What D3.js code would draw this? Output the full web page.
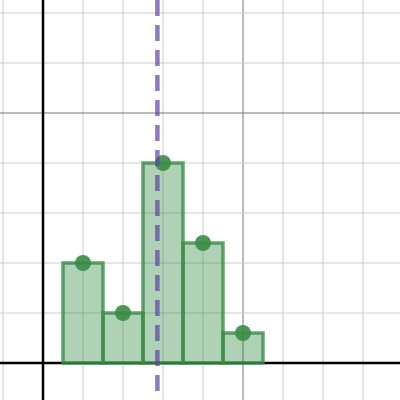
<!DOCTYPE html>
<html><head><script src="https://cdn.jsdelivr.net/npm/d3@7"></script>
<style>body{margin:0}svg{display:block}</style></head><body>
<script>
const centers=[1,2,3,4,5];
const heights=[2,1,4,2.4,0.6];
const meanX=2.86;
const W=400,H=400;
const x=d3.scaleLinear().domain([-1.075,8.925]).range([0,W]);
const y=d3.scaleLinear().domain([-0.74,7.26]).range([H,0]);
const svg=d3.select("body").append("svg").attr("width",W).attr("height",H);
svg.append("rect").attr("width",W).attr("height",H).attr("fill","#fff");
const g=svg.append("g");
d3.range(-1,9).forEach(v=>{g.append("line").attr("x1",x(v)).attr("x2",x(v)).attr("y1",0).attr("y2",H)
 .attr("stroke",v%5===0?"#777":"#ccc").attr("stroke-width",1);});
d3.range(0,8).forEach(v=>{g.append("line").attr("y1",y(v)).attr("y2",y(v)).attr("x1",0).attr("x2",W)
 .attr("stroke",v%5===0?"#777":"#ccc").attr("stroke-width",1);});
g.append("line").attr("x1",x(0)).attr("x2",x(0)).attr("y1",0).attr("y2",H).attr("stroke","#000").attr("stroke-width",2.5);
g.append("line").attr("y1",y(0)).attr("y2",y(0)).attr("x1",0).attr("x2",W).attr("stroke","#000").attr("stroke-width",2.5);
svg.selectAll(".bar").data(centers).enter().append("rect")
 .attr("x",d=>x(d-0.5)).attr("width",d=>x(d+0.5)-x(d-0.5))
 .attr("y",(d,i)=>y(heights[i])).attr("height",(d,i)=>y(0)-y(heights[i]))
 .attr("fill","rgba(56,140,70,0.4)").attr("stroke","rgba(56,140,70,0.8)").attr("stroke-width",3.5);
svg.selectAll(".dot").data(centers).enter().append("circle")
 .attr("cx",d=>x(d)).attr("cy",(d,i)=>y(heights[i])).attr("r",8).attr("fill","rgba(56,140,70,0.9)");
svg.append("line").attr("x1",x(meanX)).attr("x2",x(meanX)).attr("y1",0).attr("y2",H)
 .attr("stroke","rgba(96,66,166,0.7)").attr("stroke-width",4.5).attr("stroke-dasharray","16,9");
</script></body></html>
